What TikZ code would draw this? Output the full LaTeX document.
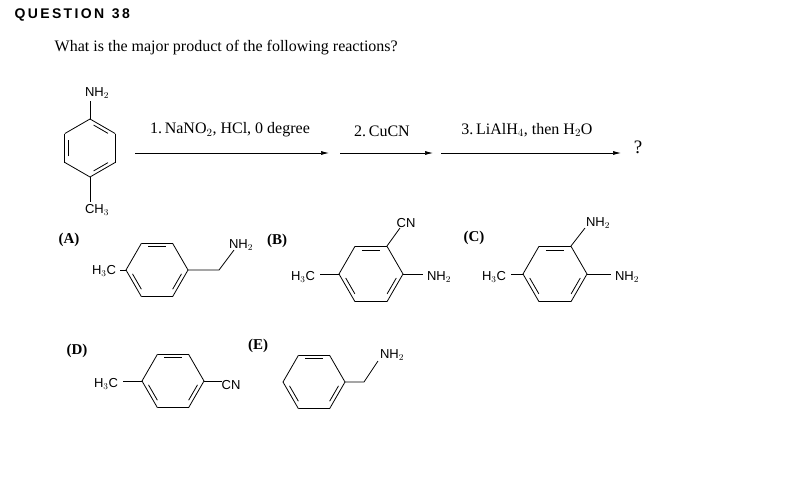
\documentclass[tikz,border=0pt]{standalone}
\usepackage{fontspec}
\setmainfont{Liberation Serif}
\setsansfont{Liberation Sans}
\usetikzlibrary{calc,arrows.meta}
\newcommand\hexring[5]{%
  \foreach \k in {0,...,5}{\draw (#1,#2)++(#4+60*\k:#3) -- ($(#1,#2)+(#4+60*\k+60:#3)$);}
  \foreach \k in {#5}{\draw ($(#1,#2)+(#4+60*\k+9:0.8*#3)$) -- ($(#1,#2)+(#4+60*\k+51:0.8*#3)$);}
}
\begin{document}
\begin{tikzpicture}[x=1pt,y=-1pt,line width=0.8pt,
  grp/.style={font=\sffamily\fontsize{13}{14}\selectfont,inner sep=0.5pt},
  lab/.style={font=\bfseries\fontsize{15}{16}\selectfont},
  rea/.style={font=\fontsize{16}{18}\selectfont},
  rxn/.style={-{Latex[length=8pt,width=4pt]},line width=0.7pt}]
\useasboundingbox (0,0) rectangle (787,487);
\fill[white] (0,0) rectangle (787,487);
\node[anchor=west,font=\sffamily\bfseries\fontsize{14}{16}\selectfont] (title) at (11,15) {Q\,U\,E\,S\,T\,I\,O\,N\ \ 3\,8};
\node[anchor=west,font=\fontsize{16}{18}\selectfont] (q) at (51,48) {What is the major product of the following reactions?};
% start
\hexring{90}{148}{29}{90}{1,3,5}
\node[grp] (s1) at (97,93) {NH$_2$};
\draw (90,119) -- (90,101);
\node[grp] (s2) at (97,210) {CH$_3$};
\draw (90,177) -- (90,202);
% arrows
\coordinate (a1s) at (135,153); \coordinate (a1e) at (329,153);
\coordinate (a2s) at (340,153); \coordinate (a2e) at (433,153);
\coordinate (a3s) at (441,153); \coordinate (a3e) at (621,153);
\draw[rxn] (a1s) -- (a1e); \draw[rxn] (a2s) -- (a2e); \draw[rxn] (a3s) -- (a3e);
\node[rea] (r1) at (230,130) {1.\,NaNO$_2$, HCl, 0 degree};
\node[rea] (r2) at (382,131) {2.\,CuCN};
\node[rea] (r3) at (527,130) {3.\,LiAlH$_4$, then H$_2$O};
\node[rea,font=\fontsize{19}{20}\selectfont] (qm) at (638,147) {?};
% A
\node[lab] (lA) at (69,240) {(A)};
\hexring{157}{270}{31}{0}{0,2,4}
\node[grp] (A1) at (104,271) {H$_3$C};
\draw (120,270) -- (126,270);
\draw (188,270) -- (219,270) -- (234,250);
\node[grp] (A2) at (241,245) {NH$_2$};
% B
\node[lab] (lB) at (277,241) {(B)};
\hexring{371}{274}{32}{0}{0,2,4}
\node[grp] (B1) at (303,277) {H$_3$C};
\draw (320,274) -- (339,274);
\draw (387,246) -- (400,228);
\node[grp] (B2) at (406,223) {CN};
\draw (403,274) -- (423,274);
\node[grp] (B3) at (439,277) {NH$_2$};
% C
\node[lab] (lC) at (474,238) {(C)};
\hexring{555}{274}{32}{0}{0,2,4}
\node[grp] (C1) at (494,277) {H$_3$C};
\draw (511,274) -- (523,274);
\draw (571,246) -- (585,228);
\node[grp] (C2) at (598,223) {NH$_2$};
\draw (587,274) -- (611,274);
\node[grp] (C3) at (627,277) {NH$_2$};
% D
\node[lab] (lD) at (77,351) {(D)};
\hexring{173}{381}{31}{0}{0,2,4}
\node[grp] (D1) at (106,384) {H$_3$C};
\draw (123,381) -- (142,381);
\draw (204,381) -- (222,381);
\node[grp] (D2) at (231,385) {CN};
% E
\node[lab] (lE) at (258,346) {(E)};
\hexring{314}{382}{31}{0}{0,2,4}
\draw (345,382) -- (364,382) -- (378,361);
\node[grp] (E1) at (392,355) {NH$_2$};
\end{tikzpicture}
\end{document}
